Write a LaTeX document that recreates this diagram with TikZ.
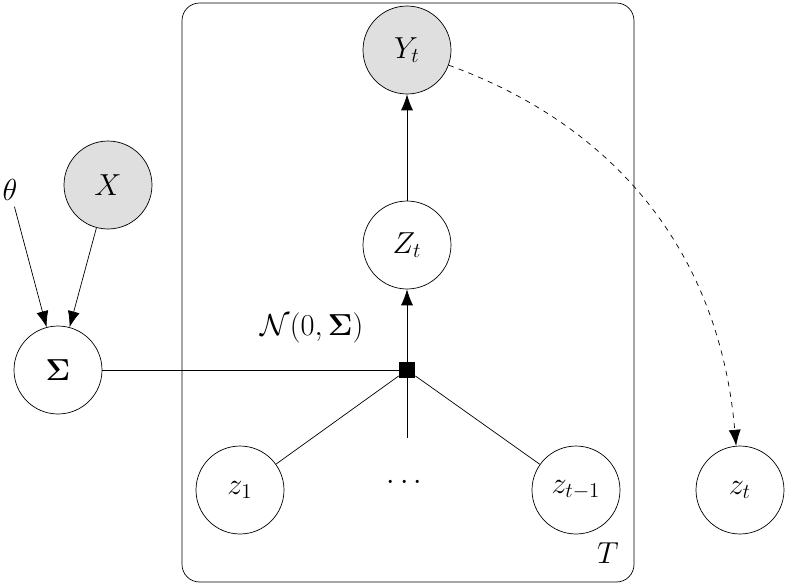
\documentclass[tikz,border=0pt]{standalone}
\usepackage{amsmath}
\usetikzlibrary{arrows.meta}
\begin{document}
\begin{tikzpicture}[x=0.02cm,y=-0.02cm,
    latent/.style={circle,draw,inner sep=0pt,minimum size=1.76cm,font=\LARGE},
    obs/.style={latent,fill=gray!25},
    factor/.style={rectangle,fill=black,inner sep=0pt,minimum size=0.32cm},
    arr/.style={-{Latex[length=3.2mm,width=2.4mm]}}]
  \useasboundingbox (0,0) rectangle (792,586);
  \draw[rounded corners=10] (182,3) rectangle (634,582);
  \node at (608,553) {\LARGE $T$};

  \node[obs] (Y) at (407,50) {$Y_t$};
  \node[latent] (Z) at (407,245) {$Z_t$};
  \node[obs] (X) at (108,185) {$X$};
  \node[latent] (S) at (58,370) {$\boldsymbol{\Sigma}$};
  \node (th) at (10,190) {\LARGE $\theta$};
  \node[factor] (f) at (407,370) {};
  \node (N) at (312,328) {\LARGE $\mathcal{N}(0,\boldsymbol{\Sigma})$};
  \node[latent] (z1) at (240,490) {$z_1$};
  \node (dots) at (407,483) {\LARGE $\cdots$};
  \coordinate (d) at (407,438);
  \node[latent] (zt1) at (576,490) {$z_{t-1}$};
  \node[latent] (zt) at (740,490) {$z_t$};

  \draw[arr] (th) -- (S);
  \draw[arr] (X) -- (S);
  \draw (S) -- (f);
  \draw (z1) -- (f);
  \draw (zt1) -- (f);
  \draw (d) -- (f);
  \draw[arr] (f) -- (Z);
  \draw[arr] (Z) -- (Y);
  \draw[arr,dashed] (Y) to[out=-20,in=95] (zt);
\end{tikzpicture}
\end{document}
